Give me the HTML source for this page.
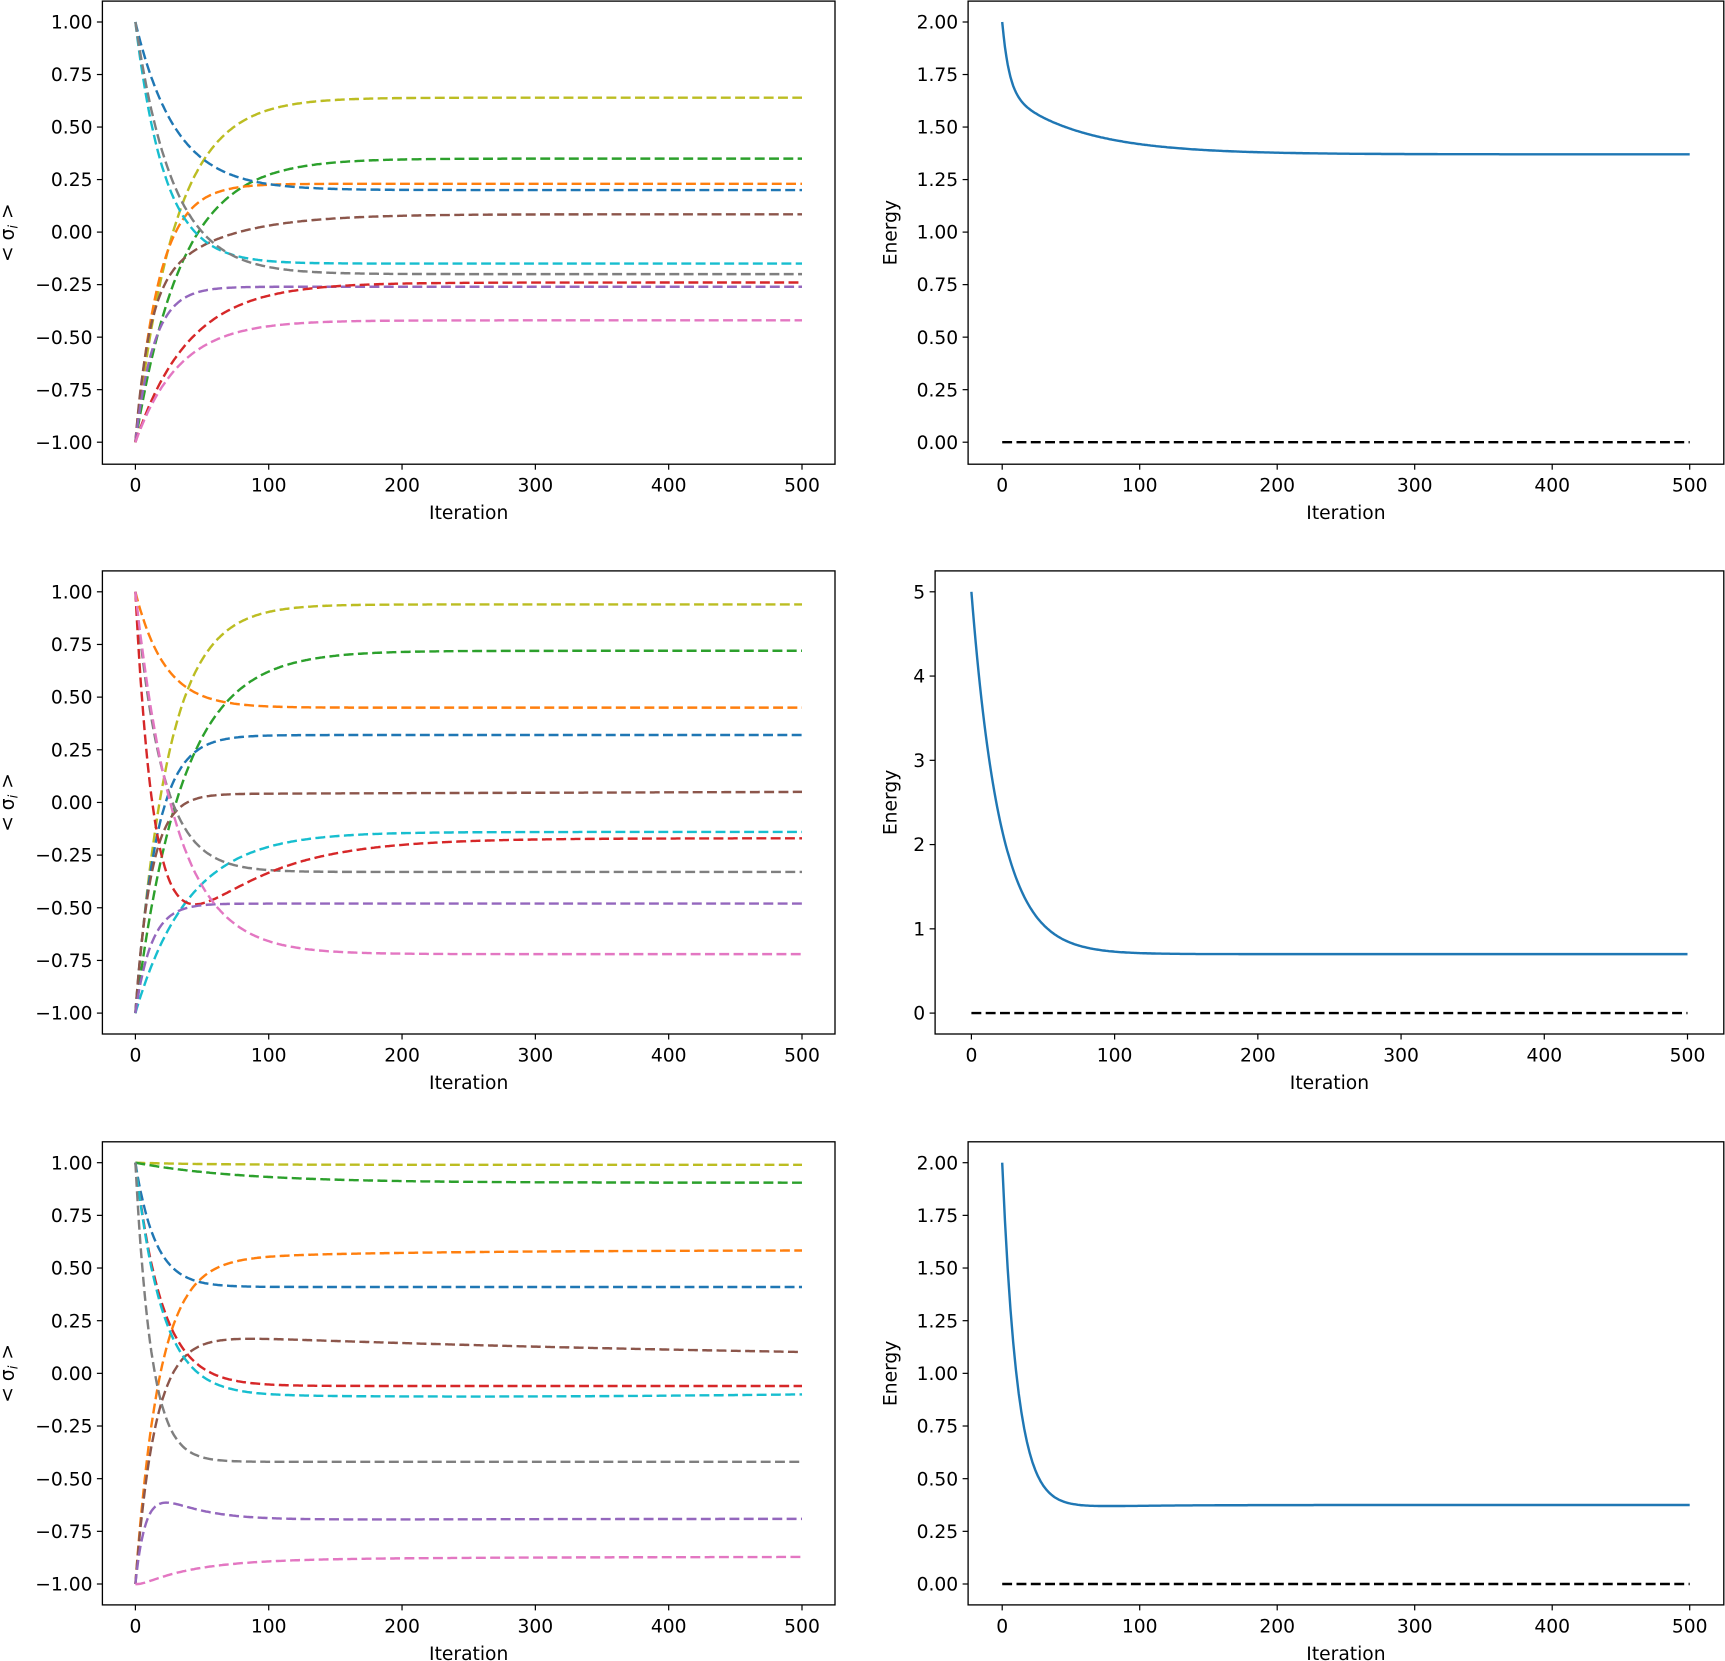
<!DOCTYPE html>
<html><head><meta charset="utf-8"><style>
html,body{margin:0;padding:0;background:#fff;}
svg{display:block;}
text{font-family:"DejaVu Sans","Liberation Sans",sans-serif;fill:#000;}
</style></head><body>
<svg id="s" width="1725" height="1661" viewBox="0 0 1568 1510" xmlns="http://www.w3.org/2000/svg"></svg>
<script>
const S=document.getElementById('s');
let out='';
const C={blue:'#1f77b4',orange:'#ff7f0e',green:'#2ca02c',red:'#d62728',purple:'#9467bd',brown:'#8c564b',pink:'#e377c2',gray:'#7f7f7f',yellow:'#bcbd22',cyan:'#17becf'};
function axes(a){
  const X=t=>a.x0+(a.x1-a.x0)*t/500;
  const Y=v=>a.yp0+(a.yp1-a.yp0)*(v-a.yv0)/(a.yv1-a.yv0);
  out+=`<rect x="${a.L}" y="${a.T}" width="${a.R-a.L}" height="${a.B-a.T}" fill="none" stroke="#000" stroke-width="1.2"/>`;
  for(let t=0;t<=500;t+=100){const x=X(t);out+=`<line x1="${x}" y1="${a.B}" x2="${x}" y2="${a.B+5}" stroke="#000" stroke-width="1.1"/><text x="${x}" y="${a.B+25}" font-size="17" text-anchor="middle">${t}</text>`;}
  for(const v of a.yticks){const y=Y(v);let s=a.fmt(v);out+=`<line x1="${a.L-5}" y1="${y}" x2="${a.L}" y2="${y}" stroke="#000" stroke-width="1.1"/><text x="${a.L-9}" y="${y+6}" font-size="17" text-anchor="end">${s}</text>`;}
  out+=`<text x="${(a.L+a.R)/2}" y="${a.B+50}" font-size="17" text-anchor="middle">Iteration</text>`;
  out+=`<text transform="translate(${a.ylx},${(a.T+a.B)/2}) rotate(-90)" font-size="17" text-anchor="middle">${a.ylabel}</text>`;
  for(const s of a.series){
    let d='';
    for(let t=0;t<=500;t+=1){d+=(t?'L':'M')+X(t).toFixed(1)+','+Y(s.f(t)).toFixed(1);}
    out+=`<path d="${d}" fill="none" stroke="${s.c}" stroke-width="2.2" ${s.dash?'stroke-dasharray="9,4"':''}/>`;
  }
}
const fm=v=>(v<0?'\u2212':'')+Math.abs(v).toFixed(2);
const ex=(a,b,tau)=>t=>b+(a-b)*Math.exp(-t/tau);
const sig='&lt; σ<tspan font-style="italic" font-size="12" dy="4">i</tspan><tspan dy="-4"> &gt;</tspan>';
const yt=[1,0.75,0.5,0.25,0,-0.25,-0.5,-0.75,-1];
function D(c,f){return {c:C[c],f,dash:true};}
axes({L:93,R:759,T:1,B:422,x0:123,x1:729,yv0:1,yp0:20,yv1:-1,yp1:402,yticks:yt,fmt:fm,ylabel:sig,ylx:12,series:[
 D('yellow',ex(-1,0.64,30)),D('green',ex(-1,0.35,35)),D('orange',ex(-1,0.23,18)),D('blue',ex(1,0.20,30)),
 D('brown',t=>0.085-0.4*Math.exp(-t/50)-0.685*Math.exp(-t/10)),D('cyan',ex(1,-0.15,22)),D('gray',ex(1,-0.20,28)),
 D('purple',ex(-1,-0.26,14)),D('red',ex(-1,-0.24,40)),D('pink',ex(-1,-0.42,33))]});
axes({L:93,R:759,T:519,B:940,x0:123,x1:729,yv0:1,yp0:538,yv1:-1,yp1:921,yticks:yt,fmt:fm,ylabel:sig,ylx:12,series:[
 D('yellow',ex(-1,0.94,25)),D('green',ex(-1,0.72,35)),D('orange',ex(1,0.45,22)),D('blue',ex(-1,0.32,16)),
 D('brown',t=>0.04+0.01*t/500-1.04*Math.exp(-t/12)),D('cyan',ex(-1,-0.14,40)),D('gray',ex(1,-0.33,20)),
 D('red',t=>-0.17+2.05*Math.exp(-t/15)-0.88*Math.exp(-t/60)),D('purple',ex(-1,-0.48,12)),D('pink',ex(1,-0.72,30))]});
axes({L:93,R:759,T:1038,B:1459,x0:123,x1:729,yv0:1,yp0:1057,yv1:-1,yp1:1440,yticks:yt,fmt:fm,ylabel:sig,ylx:12,series:[
 D('yellow',ex(1,0.99,50)),D('green',t=>0.905+0.095*Math.exp(-t/80)),D('orange',t=>0.585-0.05*Math.exp(-t/150)-1.535*Math.exp(-t/18)),
 D('blue',ex(1,0.41,15)),D('brown',t=>0.05+0.14*Math.exp(-t/500)-1.19*Math.exp(-t/15)),
 D('red',ex(1,-0.06,20)),D('cyan',t=>-0.10+1.1*Math.exp(-t/20)-0.01*Math.sin(Math.min(t,500)/500*Math.PI)),
 D('gray',ex(1,-0.42,12)),D('purple',t=>-0.69-0.01*Math.exp(-t/200)-0.55*Math.exp(-t/8)+0.25*Math.exp(-t/30)),
 D('pink',t=>-0.87-0.13*Math.exp(-t/40)-0.02*Math.exp(-t/200)+0.02*Math.exp(-t/5))]});
const e2=[2,1.75,1.5,1.25,1,0.75,0.5,0.25,0];
axes({L:880,R:1567,T:1,B:422,x0:911,x1:1536,yv0:2,yp0:20,yv1:0,yp1:402,yticks:e2,fmt:fm,ylabel:'Energy',ylx:815,series:[
 {c:C.blue,f:t=>1.37+0.33*Math.exp(-t/5)+0.30*Math.exp(-t/55)},{c:'#000',f:t=>0,dash:true}]});
axes({L:850,R:1567,T:519,B:940,x0:883,x1:1534,yv0:5,yp0:538,yv1:0,yp1:921,yticks:[5,4,3,2,1,0],fmt:v=>String(v),ylabel:'Energy',ylx:815,series:[
 {c:C.blue,f:t=>0.70+4.3*Math.exp(-t/20)},{c:'#000',f:t=>0,dash:true}]});
axes({L:880,R:1567,T:1038,B:1459,x0:911,x1:1536,yv0:2,yp0:1057,yv1:0,yp1:1440,yticks:e2,fmt:fm,ylabel:'Energy',ylx:815,series:[
 {c:C.blue,f:t=>0.375+1.625*Math.exp(-t/11)-0.03*Math.exp(-t/50)*(1-Math.exp(-t/11))},{c:'#000',f:t=>0,dash:true}]});
S.innerHTML=out;
</script>
</body></html>
